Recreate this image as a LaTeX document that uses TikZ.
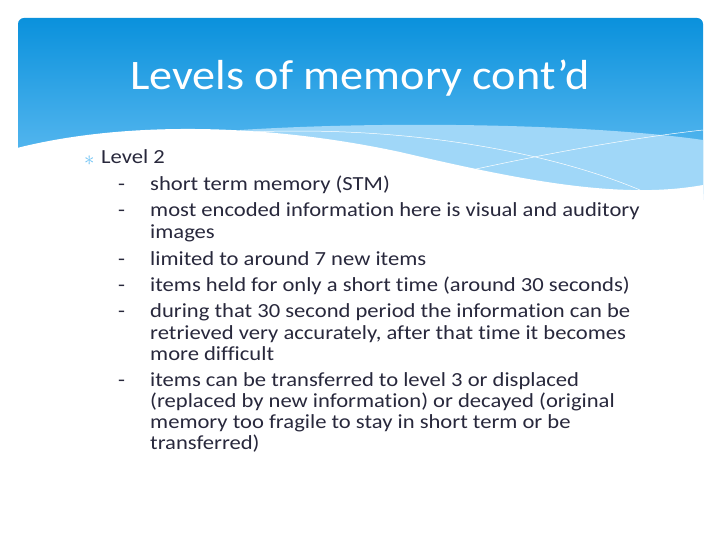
\documentclass[tikz,border=0pt]{standalone}
\usepackage{fontspec}
\setmainfont[FakeStretch=1.13,Ligatures=NoCommon]{Carlito}
\newfontfamily\titlefont[FakeStretch=1.1,Ligatures=NoCommon]{Carlito}
\begin{document}
\begin{tikzpicture}[x=1pt,y=-1pt,
  body/.style={anchor=base west,inner sep=0pt,text=txt,font=\fontsize{20}{22}\selectfont},
  dashn/.style={body}]
\definecolor{txt}{RGB}{40,40,60}
\definecolor{hdtop}{RGB}{10,145,220}
\definecolor{hdbot}{RGB}{110,195,245}
\definecolor{band}{RGB}{160,215,248}
\useasboundingbox (0,0) rectangle (720,540);
\fill[white] (0,0) rectangle (720,540);
\shade[top color=hdtop,bottom color=hdbot,rounded corners=6pt]
  (18,200) -- (18,18) -- (703,18) -- (703,200) -- cycle;
\fill[band] (240,130) .. controls (400,120) and (600,125) .. (703,140) -- (703,200) -- (240,200) -- cycle;
\fill[white] (17,148) .. controls (120,122) and (260,122) .. (400,152)
  .. controls (520,180) and (620,200) .. (703,185) -- (703,201) -- (17,201) -- cycle;
\draw[white,line width=0.5pt] (440,177) .. controls (550,152) and (640,137) .. (703,130);
\draw[white,line width=0.5pt] (230,133) .. controls (400,123) and (550,152) .. (640,190);
\node[anchor=base,text=white,inner sep=0pt,font=\titlefont\fontsize{42}{44}\selectfont] (title) at (360,90) {Levels of memory cont’d};
\node[anchor=base west,inner sep=0pt,text=hdbot,font=\fontsize{20}{20}\selectfont] (b) at (84,166) {$\ast$};
\node[body] (l0) at (101,164) {Level 2};
\foreach \y/\d/\t [count=\i] in {
  191/-/short term memory (STM),
  217/-/most encoded information  here is visual and auditory,
  238//images,
  265/-/limited to around 7 new items,
  291/-/items held for only a short time (around 30 seconds),
  317/-/during that 30 second period the information can be,
  339//{retrieved very accurately, after that time it becomes},
  360//more difficult,
  386/-/items can be transferred to level 3 or displaced,
  407//(replaced by new information) or decayed (original,
  428//memory too fragile to stay in short term or be,
  449//transferred)}
  {\node[dashn] (d\i) at (118,\y) {\d};
   \node[body] (t\i) at (150,\y) {\t};}
\end{tikzpicture}
\end{document}
